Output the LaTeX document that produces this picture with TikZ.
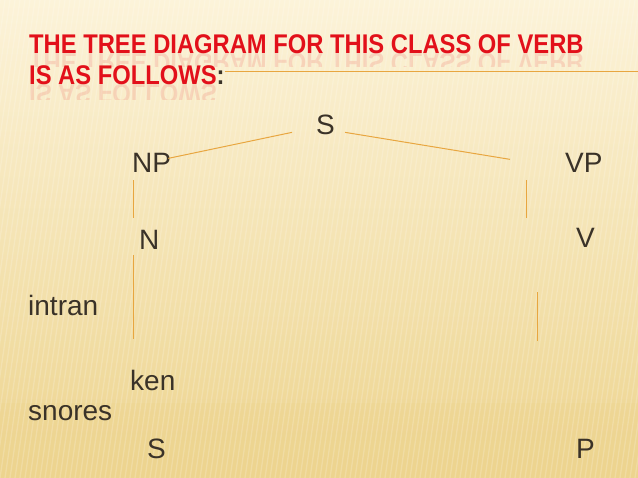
\documentclass[tikz,border=0pt]{standalone}
\usepackage{fontspec}
\setmainfont{Liberation Sans}
\newfontfamily\titlefont[FakeStretch=0.88]{Liberation Sans}

\definecolor{paper}{RGB}{252,243,217}
\definecolor{paperdark}{RGB}{237,212,142}
\definecolor{titlered}{RGB}{226,16,26}
\definecolor{txt}{RGB}{58,50,40}
\definecolor{branch}{RGB}{232,166,64}

\tikzset{
  word/.style={anchor=base west,inner sep=0pt,text=txt,font=\fontsize{28}{32}\selectfont},
  heading/.style={anchor=base west,inner sep=0pt,text=titlered,font=\titlefont\bfseries\fontsize{27}{30}\selectfont},
  mirror/.style={heading,opacity=.12,yscale=-1},
  twig/.style={draw=branch,line width=1pt}
}

\begin{document}
\begin{tikzpicture}[x=1pt,y=-1pt]
  \useasboundingbox (0,0) rectangle (638,478);
  \shade[top color=paper,bottom color=paperdark] (0,0) rectangle (638,478);
  \fill[paperdark,opacity=.35] (0,403) rectangle (638,478);
  \foreach \x in {0,5,...,720} \draw[white,opacity=.18,line width=1.3pt] (\x-70,478)--(\x,0);
  % title
  \begin{scope}
    \clip (0,54) rectangle (638,67);
    \node[mirror] at (29,54) {THE TREE DIAGRAM FOR THIS CLASS OF VERB};
  \end{scope}
  \begin{scope}
    \clip (0,85) rectangle (638,100);
    \node[mirror] at (29,85) {IS AS FOLLOWS};
  \end{scope}
  \node[heading] (t1) at (29,54) {THE TREE DIAGRAM FOR THIS CLASS OF VERB};
  \node[heading] (t2) at (29,85) {IS AS FOLLOWS{\color{txt}:}};
  \coordinate (ruleend) at (638,72);
  \draw[branch,line width=1pt] (t2.east |- ruleend) -- (ruleend);
  % tree
  \node[word] (top) at (316,135) {S};
  \node[word] (np) at (132,173) {NP};
  \node[word] (vp) at (565,173) {VP};
  \node[word] (n) at (139,250) {N};
  \node[word] (v) at (576,248) {V};
  \node[word] (intran) at (28,316) {intran};
  \node[word] (ken) at (130,391) {ken};
  \node[word] (snores) at (28,421) {snores};
  \node[word] (s) at (147,459) {S};
  \node[word] (p) at (576,459) {P};
  \draw[twig] ([shift={(-24,7)}]top.west) -- ([shift={(-3,-5)}]np.east);
  \draw[twig] ([shift={(10,7)}]top.east) -- ([shift={(-55,-4)}]vp.west);
  \draw[twig] ([shift={(1,7)}]np.south west) -- ([shift={(-6,-13)}]n.north west);
  \draw[twig] ([shift={(-39,7)}]vp.south west) -- ([shift={(-50,-11)}]v.north west);
  \draw[twig] ([shift={(-6,5)}]n.south west) -- ([shift={(3,-32)}]ken.north west);
  \draw[twig] ([shift={(-39,44)}]v.south west) -- ([shift={(-39,-99)}]p.north west);
\end{tikzpicture}
\end{document}
